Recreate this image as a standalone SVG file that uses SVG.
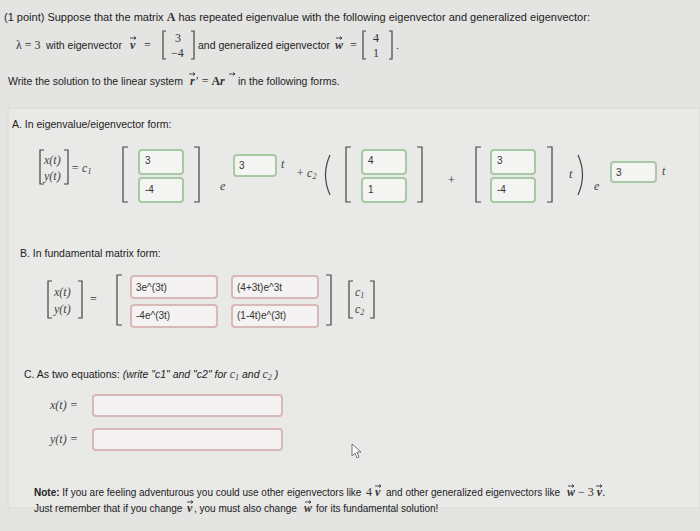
<svg xmlns="http://www.w3.org/2000/svg" width="700" height="531" viewBox="0 0 700 531">
<style>
text{font-family:"Liberation Sans",Arial,sans-serif;font-size:10.5px;fill:#222}
.m{font-family:"Liberation Serif","Times New Roman",serif;font-size:12px;fill:#333}
.mi{font-family:"Liberation Serif","Times New Roman",serif;font-style:italic;font-size:12px;fill:#444}
.bx{fill:#f4f4f2;stroke:#a9c9a4;stroke-width:2;rx:3}
.bp{fill:#f4f2f2;stroke:#d9b8b8;stroke-width:2;rx:3}
.br{fill:none;stroke:#444;stroke-width:1.2}
.ar{fill:none;stroke:#333;stroke-width:0.9}
.v{font-size:10px;fill:#333}
.n{font-size:10px}
</style>
<defs><path id="arw" d="M0,0h6M4,-1.5l2,1.5l-2,1.5"/></defs>
<rect width="700" height="531" fill="#e4e4e2"/>
<rect x="8" y="108" width="692" height="400" fill="#e9e9e7" stroke="#d8d8d6"/>
<g id="header">
<text x="4" y="21" style="font-size:11px">(1 point) Suppose that the matrix <tspan class="m" style="font-weight:bold">A</tspan> has repeated eigenvalue with the following eigenvector and generalized eigenvector:</text>
<text class="m" x="16" y="49">λ = 3</text>
<text x="46" y="49">with eigenvector</text>
<text class="m" x="130" y="49" style="font-weight:bold;font-style:italic">v</text>
<use href="#arw" class="ar" x="130" y="38"/>
<text class="m" x="144" y="49">=</text>
<path class="br" d="M166,31h-3v28h3M191,31h3v28h-3"/>
<text class="m" x="175" y="42">3</text><text class="m" x="171" y="57">−4</text>
<text x="198" y="49">and generalized eigenvector</text>
<text class="m" x="335" y="49" style="font-weight:bold;font-style:italic">w</text>
<use href="#arw" class="ar" x="336" y="38"/>
<text class="m" x="350" y="49">=</text>
<path class="br" d="M366,31h-3v28h3M389,31h3v28h-3"/>
<text class="m" x="373" y="42">4</text><text class="m" x="373" y="57">1</text>
<text x="396" y="49">.</text>
<text x="8" y="85">Write the solution to the linear system</text>
<text class="m" x="190" y="85" style="font-weight:bold;font-style:italic">r</text>
<use href="#arw" class="ar" x="189" y="74"/>
<text class="m" x="196" y="85">′ = <tspan style="font-weight:bold">A</tspan><tspan style="font-weight:bold;font-style:italic">r</tspan></text>
<use href="#arw" class="ar" x="229" y="74"/>
<text x="238" y="85">in the following forms.</text>
</g>
<g id="partA">
<text x="12" y="128">A. In eigenvalue/eigenvector form:</text>
<path class="br" d="M44,150h-4v34h4M64,150h4v34h-4"/>
<text class="mi" x="44" y="164">x(t)</text><text class="mi" x="44" y="180">y(t)</text>
<text class="mi" x="71" y="172">= c<tspan style="font-size:8px" dy="2">1</tspan></text>
<path class="br" d="M128,147h-5v55h5M194,147h5v55h-5"/>
<rect class="bx" x="139" y="150" width="44" height="24"/><text class="v" x="145" y="164">3</text>
<rect class="bx" x="139" y="178" width="44" height="24"/><text class="v" x="145" y="193">-4</text>
<text class="mi" x="220" y="190">e</text>
<rect class="bx" x="234" y="155" width="42" height="21"/><text class="v" x="239" y="169">3</text>
<text class="mi" x="281" y="168">t</text>
<text class="mi" x="296" y="177">+ c<tspan style="font-size:8px" dy="2">2</tspan></text>
<path class="br" d="M330,155q-9,20 0,40"/>
<path class="br" d="M351,147h-5v55h5M417,147h5v55h-5"/>
<rect class="bx" x="362" y="150" width="44" height="24"/><text class="v" x="368" y="164">4</text>
<rect class="bx" x="362" y="178" width="44" height="24"/><text class="v" x="368" y="193">1</text>
<text class="m" x="448" y="184">+</text>
<path class="br" d="M481,147h-5v55h5M547,147h5v55h-5"/>
<rect class="bx" x="491" y="150" width="44" height="24"/><text class="v" x="497" y="164">3</text>
<rect class="bx" x="491" y="178" width="44" height="24"/><text class="v" x="497" y="193">-4</text>
<text class="mi" x="569" y="178">t</text>
<path class="br" d="M578,155q9,20 0,40"/>
<text class="mi" x="594" y="190">e</text>
<rect class="bx" x="611" y="162" width="45" height="20"/><text class="v" x="616" y="176">3</text>
<text class="mi" x="662" y="175">t</text>
</g>
<g id="partB">
<text x="20" y="257">B. In fundamental matrix form:</text>
<path class="br" d="M52,281h-4v37h4M78,281h4v37h-4"/>
<text class="mi" x="54" y="296">x(t)</text><text class="mi" x="54" y="313">y(t)</text>
<text class="m" x="90" y="303">=</text>
<path class="br" d="M122,275h-5v50h5"/>
<rect class="bp" x="131" y="276" width="86" height="22"/><text class="v" x="136" y="291">3e^(3t)</text>
<rect class="bp" x="131" y="305" width="86" height="22"/><text class="v" x="136" y="319">-4e^(3t)</text>
<rect class="bp" x="232" y="276" width="86" height="22"/><text class="v" x="237" y="291">(4+3t)e^3t</text>
<rect class="bp" x="232" y="305" width="86" height="22"/><text class="v" x="237" y="319">(1-4t)e^(3t)</text>
<path class="br" d="M326,275h5v50h-5"/>
<path class="br" d="M353,281h-4v37h4M370,281h4v37h-4"/>
<text class="mi" x="355" y="296">c<tspan style="font-size:8px" dy="2">1</tspan></text><text class="mi" x="355" y="313">c<tspan style="font-size:8px" dy="2">2</tspan></text>
</g>
<g id="partC">
<text x="24" y="378">C. As two equations: <tspan style="font-style:italic">(write "c1" and "c2" for </tspan><tspan class="mi">c<tspan style="font-size:8px" dy="2">1</tspan></tspan><tspan dy="-2" style="font-style:italic"> and </tspan><tspan class="mi">c<tspan style="font-size:8px" dy="2">2</tspan></tspan><tspan dy="-2" style="font-style:italic"> )</tspan></text>
<text class="mi" x="50" y="409">x(t) =</text>
<rect class="bp" x="93" y="395" width="189" height="21"/>
<text class="mi" x="50" y="443">y(t) =</text>
<rect class="bp" x="93" y="429" width="189" height="21"/>
<path d="M352,444v12l3,-3l2,5l2,-1l-2,-5h4z" fill="#fff" stroke="#555" stroke-width="0.8"/>
</g>
<g id="note">
<text x="34" y="496" class="n"><tspan style="font-weight:bold">Note:</tspan> If you are feeling adventurous you could use other eigenvectors like</text>
<text class="m" x="366" y="496">4 <tspan style="font-weight:bold;font-style:italic">v</tspan></text>
<use href="#arw" class="ar" x="375" y="486"/>
<text x="386" y="496" class="n">and other generalized eigenvectors like</text>
<text class="m" x="567" y="496"><tspan style="font-weight:bold;font-style:italic">w</tspan> − 3 <tspan style="font-weight:bold;font-style:italic">v</tspan>.</text>
<use href="#arw" class="ar" x="568" y="486"/><use href="#arw" class="ar" x="596" y="486"/>
<text x="34" y="512" class="n">Just remember that if you change</text>
<text class="m" x="187" y="512" style="font-weight:bold;font-style:italic">v</text>
<use href="#arw" class="ar" x="187" y="502"/>
<text x="194" y="512" class="n">, you must also change</text>
<text class="m" x="304" y="512" style="font-weight:bold;font-style:italic">w</text>
<use href="#arw" class="ar" x="305" y="502"/>
<text x="316" y="512" class="n">for its fundamental solution!</text>
</g>
</svg>
